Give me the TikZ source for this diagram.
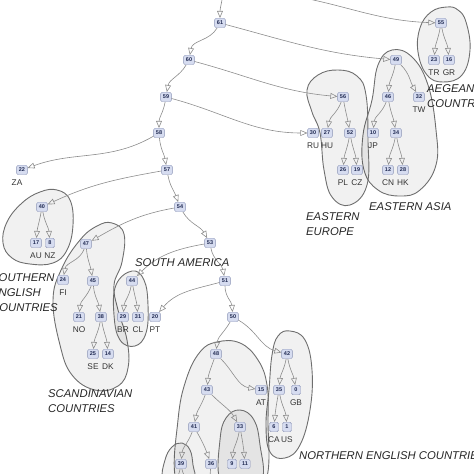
\documentclass[tikz,border=0pt]{standalone}
\usepackage{fontspec}
\setmainfont{Liberation Sans}
\usetikzlibrary{arrows,positioning}
\definecolor{nodefill}{HTML}{D6DCF0}
\definecolor{nodeline}{HTML}{8A93B5}
\definecolor{nodetext}{HTML}{1E2850}
\definecolor{blobline}{HTML}{6E6E6E}
\definecolor{edgecol}{HTML}{8C8C8C}

\begin{document}
\begin{tikzpicture}[x=1pt,y=1pt,
   cl/.style={draw=nodeline,fill=nodefill,rounded corners=1.5pt,inner xsep=2.3pt,inner ysep=0pt,
      minimum height=9.5pt,minimum width=9pt,text=nodetext,font=\fontsize{5.5}{6}\selectfont\bfseries},
   leaf/.style={inner sep=0pt,text=black!80,font=\fontsize{8.3}{9}\selectfont},
   grp/.style={inner sep=0pt,align=left,text=black!85,font=\fontsize{11.3}{15}\selectfont\itshape},
   blob/.style={draw=blobline,line width=0.9pt,fill=black,fill opacity=0.055},
   link/.style={draw=edgecol,line width=0.6pt,-open triangle 45}]

   \useasboundingbox (0,0) rectangle (474,474);
   \clip (0,0) rectangle (474,474);

   % clusters
   \draw[blob] plot[smooth cycle,tension=0.7] coordinates {(447,467) (431,462) (420,446) (418,422) (427,399) (443,392) (462,399) (470,424) (466,452) (458,464)};
   \draw[blob] plot[smooth cycle,tension=0.7] coordinates {(392,424) (412,417) (428,389) (436,344) (436,309) (420,284) (400,278) (378,284) (364,304) (363,339) (372,374) (378,409)};
   \draw[blob] plot[smooth cycle,tension=0.7] coordinates {(307,384) (318,399) (338,404) (357,398) (366,379) (368,334) (367,289) (350,269) (332,277) (324,304) (320,341) (312,362)};
   \draw[blob] plot[smooth cycle,tension=0.7] coordinates {(57,284) (70,274) (73,249) (67,224) (53,211) (30,210) (12,216) (3,231) (7,252) (22,271) (40,282)};
   \draw[blob] plot[smooth cycle,tension=0.7] coordinates {(112,251) (124,240) (122,212) (114,189) (118,164) (127,134) (128,106) (118,88) (95,84) (72,99) (60,129) (53,174) (62,206) (80,234) (97,248)};
   \draw[blob] plot[smooth cycle,tension=0.7] coordinates {(132,203) (144,194) (148,169) (146,141) (135,128) (120,134) (114,159) (116,189)};
   \draw[blob] plot[smooth cycle,tension=0.7] coordinates {(290,143) (305,134) (312,104) (310,64) (300,29) (285,16) (270,22) (266,49) (269,84) (272,119) (278,138)};
   \draw[blob] plot[smooth cycle,tension=0.7] coordinates {(176,-6) (178,54) (186,94) (200,122) (217,132) (240,131) (258,114) (267,89) (268,54) (266,-6) (240,-26) (200,-26)};
   \draw[blob] plot[smooth cycle,tension=0.7] coordinates {(220,-6) (220,34) (226,56) (240,64) (254,54) (260,29) (262,-6) (240,-20)};
   \draw[blob] plot[smooth cycle,tension=0.7] coordinates {(163,-6) (165,14) (172,27) (182,31) (190,24) (193,9) (194,-6) (178,-16)};

   % tree nodes
   \foreach \n/\x/\y in {61/220/451, 60/189/414, 59/166/377, 58/159/341, 57/167/304, 54/180/267,
      53/210/231, 51/225/193, 50/233/157, 22/22/304, 40/42/267, 17/36/231, 8/50/231, 47/86/230,
      24/63/194, 45/93/193, 44/132/193, 21/79/157, 38/101/157, 29/123/157, 31/138/157, 20/155/157,
      25/93/120, 14/108/120, 48/216/120, 42/287/120, 43/207/84, 15/261/84, 35/279/84, 0/296/84,
      41/194/47, 33/240/47, 6/274/47, 1/287/47, 39/181/10, 36/211/10, 9/232/10, 11/245/10,
      55/441/451, 23/434/414, 16/449/414, 49/396/414, 46/388/377, 32/419/377, 56/343/377,
      30/313/341, 27/327/341, 52/350/341, 10/373/341, 34/396/341, 26/343/304, 19/357/304,
      12/388/304, 28/403/304} {
      \node[cl] (n\n) at (\x,\y) {\n};
   }

   % country codes
   \foreach \n/\t in {30/RU, 27/HU, 26/PL, 19/CZ, 10/JP, 32/TW, 12/CN, 28/HK, 23/TR, 16/GR,
      17/AU, 8/NZ, 24/FI, 21/NO, 25/SE, 14/DK, 29/BR, 31/CL, 20/PT, 15/AT, 0/GB, 6/CA, 1/US} {
      \node[leaf,below=5pt of n\n] (t\n) {\t};
   }
   \node[leaf,below=5pt of n22,xshift=-5pt] (t22) {ZA};

   % ends leaving the frame
   \coordinate (top61) at (223,482);
   \coordinate (top55) at (280,480);
   \coordinate (bot39a) at (177,-8);
   \coordinate (bot39b) at (186,-8);
   \coordinate (bot36) at (210,-8);
   \draw[link] (top61) to[out=-95,in=90] (n61);
   \draw[link] (top55) to[out=-8,in=178] (n55);
   \draw[draw=edgecol,line width=0.6pt] (n39) to[out=-100,in=90] (bot39a);
   \draw[draw=edgecol,line width=0.6pt] (n39) to[out=-80,in=90] (bot39b);
   \draw[draw=edgecol,line width=0.6pt] (n36) to[out=-95,in=90] (bot36);

   % edges
   \foreach \a/\b/\o/\i in {61/60/-120/80, 60/59/-120/80, 59/58/-100/90, 58/57/-85/100,
      57/54/-80/110, 54/53/-60/120, 53/51/-80/100, 51/50/-90/95,
      61/49/-15/175, 60/56/-15/175, 59/30/-15/180, 58/22/-150/20, 57/40/190/25,
      54/47/190/30, 53/44/190/45, 51/20/195/50, 50/48/-120/85, 50/42/-30/165,
      48/43/-110/85, 48/15/-45/170, 43/41/-110/80, 43/33/-45/120, 41/39/-110/85,
      41/36/-60/110, 33/9/-100/85, 33/11/-80/95, 42/35/-100/85, 42/0/-80/100,
      35/6/-100/85, 35/1/-80/95, 55/23/-100/85, 55/16/-80/95, 49/46/-100/85,
      49/32/-45/120, 46/10/-110/85, 46/34/-80/100, 34/12/-100/85, 34/28/-80/95,
      56/27/-110/80, 56/52/-80/100, 52/26/-100/85, 52/19/-80/95, 40/17/-100/85,
      40/8/-80/95, 47/24/-110/80, 47/45/-85/100, 45/21/-110/85, 45/38/-85/100,
      38/25/-100/85, 38/14/-80/95, 44/29/-100/85, 44/31/-80/95} {
      \draw[link] (n\a) to[out=\o,in=\i] (n\b);
   }

   % cluster names
   \node[grp,anchor=north west] (gAegean) at (427,390) {AEGEAN\\COUNTRIES};
   \node[grp,anchor=west] (gAsia) at (369,267) {EASTERN ASIA};
   \node[grp,anchor=north west] (gEurope) at (306,262) {EASTERN\\EUROPE};
   \node[grp,anchor=north west] (gSouthEng) at (-9,201) {SOUTHERN\\ENGLISH\\COUNTRIES};
   \node[grp,anchor=west] (gAmerica) at (135,211) {SOUTH AMERICA};
   \node[grp,anchor=north west] (gScand) at (48,85) {SCANDINAVIAN\\COUNTRIES};
   \node[grp,anchor=west] (gNorthEng) at (299,18) {NORTHERN ENGLISH COUNTRIES};

\end{tikzpicture}
\end{document}
